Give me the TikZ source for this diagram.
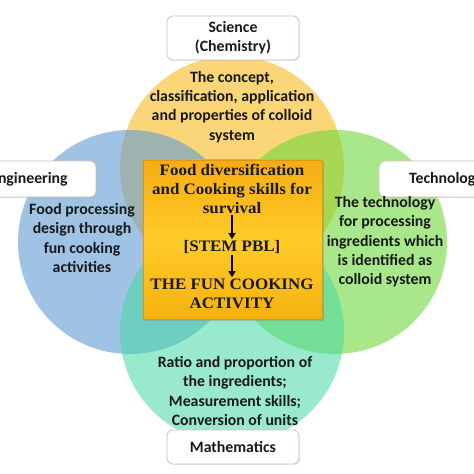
\documentclass[tikz,border=0pt]{standalone}
\usepackage{fontspec}
\setmainfont{Carlito}
\newfontfamily\centrefont[FakeStretch=1.06]{Liberation Serif}
\usetikzlibrary{arrows.meta,shadows}
\definecolor{sciyellow}{RGB}{247,188,30}
\definecolor{engblue}{RGB}{97,155,213}
\definecolor{techgreen}{RGB}{110,215,60}
\definecolor{mathteal}{RGB}{70,215,165}
\definecolor{tagborder}{RGB}{205,195,175}
\definecolor{textdark}{RGB}{25,25,25}
\definecolor{goldtop}{RGB}{246,172,18}
\definecolor{goldmid}{RGB}{255,203,40}
\definecolor{goldbot}{RGB}{244,178,14}
\definecolor{goldedge}{RGB}{225,150,20}
\begin{document}
\begin{tikzpicture}[x=1pt,y=1pt,
  tag/.style={draw=tagborder, fill=white, rounded corners=6pt, line width=0.8pt,
    font=\bfseries\fontsize{15.8}{19}\selectfont, align=center, text=textdark,
    drop shadow={opacity=0.15, shadow xshift=1pt, shadow yshift=-1pt}},
  topic/.style={font=\bfseries\fontsize{15.8}{19.3}\selectfont, align=center, text=textdark},
  core/.style={font=\centrefont\bfseries\fontsize{16}{19.3}\selectfont, align=center, text=textdark, inner sep=1pt}]
\useasboundingbox (0,0) rectangle (474,474);
\clip (0,0) rectangle (474,474);
\fill[white] (0,0) rectangle (474,474);

% the four circles
\fill[sciyellow, opacity=0.6] (232,306) circle[radius=112pt];
\fill[engblue, opacity=0.6] (130,232) circle[radius=112pt];
\fill[techgreen, opacity=0.6] (335,232) circle[radius=112pt];
\fill[mathteal, opacity=0.55] (232,142) circle[radius=112pt];

% labels on the circles
\node[tag, minimum width=132pt, minimum height=44pt] (science) at (233,436) {Science\\(Chemistry)};
\node[tag, minimum width=134pt, minimum height=36pt] (engineering) at (29,295) {Engineering};
\node[tag, minimum width=134pt, minimum height=36pt] (technology) at (446,295) {Technology};
\node[tag, minimum width=132pt, minimum height=34pt] (mathematics) at (233,27) {Mathematics};

% what each subject brings
\node[topic] (scitext) at (232,367) {The concept,\\classification, application\\and properties of colloid\\system};
\node[topic] (engtext) at (82,236) {Food processing\\design through\\fun cooking\\activities};
\node[topic] (techtext) at (385,232) {The technology\\for processing\\ingredients which\\is identified as\\colloid system};
\node[topic] (mathtext) at (235,83) {Ratio and proportion of\\the ingredients;\\Measurement skills;\\Conversion of units};

% centre box
\node[draw=goldedge, top color=goldtop, bottom color=goldbot, middle color=goldmid,
  minimum width=179pt, minimum height=159pt,
  drop shadow={opacity=0.35, shadow xshift=2pt, shadow yshift=-2pt}] (centre) at (232.5,234.5) {};
\node[core] (food) at (232,285) {Food diversification\\and Cooking skills for\\survival};
\node[core] (stem) at (232,227) {[STEM PBL]};
\node[core] (fun) at (232,180.5) {THE FUN COOKING\\ACTIVITY};

\draw[-{Triangle[length=6pt,width=7pt]}, line width=1.6pt] (food) -- (stem);
\draw[-{Triangle[length=6pt,width=7pt]}, line width=1.6pt] (stem) -- (fun);
\end{tikzpicture}
\end{document}
